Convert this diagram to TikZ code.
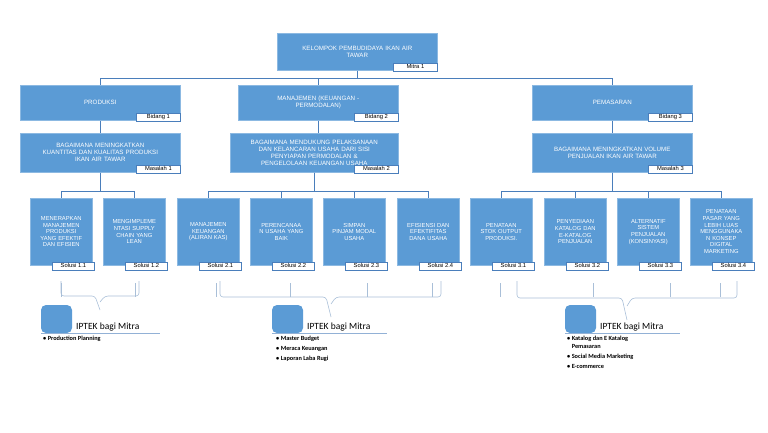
\documentclass[tikz,border=0pt]{standalone}
\usepackage{fontspec}
\setmainfont{Liberation Sans}
\newfontfamily\calfnt{Carlito}
\definecolor{bx}{HTML}{5B9BD5}
\definecolor{ln}{HTML}{4A7EBB}
\definecolor{br}{HTML}{A9BFD8}
\begin{document}
\begin{tikzpicture}[x=1pt,y=-1pt,
 box/.style={fill=bx,draw=bx!70!white,line width=0.6pt,text=white,font=\fontsize{6.2}{7}\selectfont,align=center,inner sep=1pt},
 tag/.style={fill=white,draw=ln,line width=0.4pt,font=\fontsize{5.8}{6}\selectfont,inner sep=0.6pt,minimum height=8,minimum width=44,align=right,anchor=north east},
 con/.style={draw=ln,line width=0.8pt},
 brc/.style={draw=br,line width=0.6pt,rounded corners=3},
 tab/.style={fill=bx,rounded corners=5},
 ipt/.style={font=\calfnt\fontsize{9.5}{10}\selectfont,anchor=south west,inner sep=0},
 bul/.style={font=\calfnt\bfseries\fontsize{6.3}{8}\selectfont,anchor=north west,align=left,inner sep=0}]
\useasboundingbox (0,0) rectangle (768,433);
% top
\node[box,minimum width=160,minimum height=37,text width=150,anchor=north west] (top) at (277,33) {KELOMPOK PEMBUDIDAYA IKAN AIR\\TAWAR};
\node[tag] (tm) at (top.south east) [yshift=8] {Mitra 1};
% level 2
\foreach \n/\x/\t/\k in {p/20/PRODUKSI/1,m/238/{MANAJEMEN (KEUANGAN -\\PERMODALAN)}/2,s/532/PEMASARAN/3}{
 \node[box,minimum width=160,minimum height=35,text width=150,anchor=north west] (\n) at (\x,85) {\t};
 \node[tag] at (\n.south east) [yshift=8] {Bidang \k};
}
% level 3
\node[box,minimum width=160,minimum height=39,text width=158,anchor=north west] (p3) at (20,133) {BAGAIMANA MENINGKATKAN\\KUANTITAS DAN KUALITAS PRODUKSI\\IKAN AIR TAWAR};
\node[tag] at (p3.south east) [yshift=8] {Masalah 1};
\node[box,minimum width=168,minimum height=39,text width=166,anchor=north west] (m3) at (230,133) {BAGAIMANA MENDUKUNG PELAKSANAAN\\DAN KELANCARAN USAHA DARI SISI\\PENYIAPAN PERMODALAN \&\\PENGELOLAAN KEUANGAN USAHA};
\node[tag] at (m3.south east) [yshift=8] {Masalah 2};
\node[box,minimum width=160,minimum height=39,text width=158,anchor=north west] (s3) at (532,133) {BAGAIMANA MENINGKATKAN VOLUME\\PENJUALAN IKAN AIR TAWAR};
\node[tag] at (s3.south east) [yshift=8] {Masalah 3};
% level 4
\foreach \n/\x/\t/\k in {
 a1/30/{MENERAPKAN\\MANAJEMEN\\PRODUKSI\\YANG EFEKTIF\\DAN EFISIEN}/1.1,
 a2/103/{MENGIMPLEME\\NTASI SUPPLY\\CHAIN YANG\\LEAN}/1.2,
 b1/177/{MANAJEMEN\\KEUANGAN\\(ALIRAN KAS)}/2.1,
 b2/250/{PERENCANAA\\N USAHA YANG\\BAIK}/2.2,
 b3/323/{SIMPAN\\PINJAM MODAL\\USAHA}/2.3,
 b4/397/{EFISIENSI DAN\\EFEKTIFITAS\\DANA USAHA}/2.4,
 c1/470/{PENATAAN\\STOK OUTPUT\\PRODUKSI.}/3.1,
 c2/544/{PENYEDIAAN\\KATALOG DAN\\E-KATALOG\\PENJUALAN}/3.2,
 c3/617/{ALTERNATIF\\SISTEM\\PENJUALAN\\(KONSINYASI)}/3.3,
 c4/690/{PENATAAN\\PASAR YANG\\LEBIH LUAS\\MENGGUNAKA\\N KONSEP\\DIGITAL\\MARKETING}/3.4}{
 \node[box,minimum width=61,minimum height=67,text width=60,anchor=north west,font=\fontsize{5.8}{6.6}\selectfont] (\n) at (\x,198) {\t};
 \node[tag,minimum width=42] at (\n.south east) [xshift=2,yshift=4] {Solusi \k};
}
% connectors
\draw[con] (top.south) -- ++(0,8) -| (p.north);
\draw[con] (top.south) ++(0,8) -| (s.north);
\draw[con] (top.south) ++(0,8) -| (m.north);
\draw[con] (p.south) -- (p3.north);
\draw[con] (m.south) -- (m.south |- m3.north);
\draw[con] (s.south) -- (s3.north);
\foreach \pp/\kids in {p3/{a1,a2},m3/{b1,b2,b3,b4},s3/{c1,c2,c3,c4}}{
 \foreach \c in \kids { \draw[con] (\pp.south) -- ++(0,19) -| (\c.north); }
}
% braces
\coordinate (t1) at (100,310); \coordinate (t2) at (331,317); \coordinate (t3) at (627,320);
\draw[brc] (61,281) -- (61,296) -- (95,296) -- (t1);
\draw[brc] (139,281) -- (139,296) -- (105,296) -- (100,302);
\draw[brc] (220,281) -- (220,297) -- (326,297) -- (t2);
\draw[brc] (441,281) -- (441,297) -- (336,297) -- (331,304);
\draw[brc] (517,281) -- (517,298) -- (622,298) -- (t3);
\draw[brc] (737,281) -- (737,298) -- (632,298) -- (627,306);
\foreach \n/\x in {a1/61,a2/135,b1/216,b2/290,b3/367,b4/432,c1/500,c2/593,c3/670,c4/720}{
 \draw[brc] (\x,283) -- (\x,297);
}
% IPTEK blocks
\foreach \n/\x/\w in {i1/41/119,i2/272/115,i3/565/115}{
 \fill[tab] (\x,333) -- (\x,305) -- (\x+31,305) -- (\x+31,333) -- cycle;
 \node[ipt] (\n) at (\x+35,331) {IPTEK bagi Mitra};
 \draw[ln!60!white,line width=0.7pt] (\x,333.5) -- (\x+\w,333.5);
}
\node[bul] (l1) at (43,336) {• Production Planning};
\node[bul] (l2) at (276,336) {• Master Budget\\[2pt]• Meraca Keuangan\\[2pt]• Laporan Laba Rugi};
\node[bul] (l3) at (567,336) {• Katalog dan E Katalog\\\hphantom{• }Pemasaran\\[2pt]• Social Media Marketing\\[2pt]• E-commerce};
\end{tikzpicture}
\end{document}
